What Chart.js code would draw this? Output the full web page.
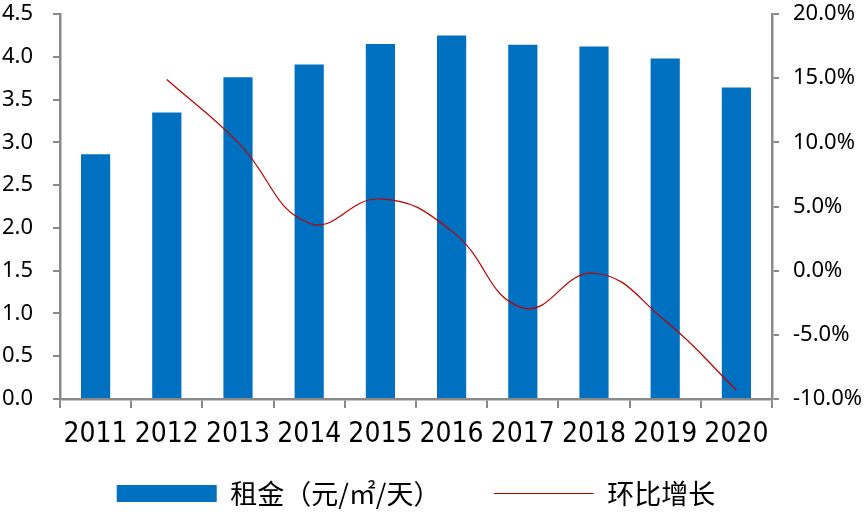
<!DOCTYPE html>
<html>
<head>
<meta charset="utf-8">
<script src="https://cdn.jsdelivr.net/npm/chart.js@4.4.1/dist/chart.umd.min.js"></script>
<style>
    body { margin: 0; background: #fff; }
    #wrap { width: 867px; height: 517px; }
</style>
</head>
<body>
<div id="wrap"><canvas id="myChart" width="867" height="517"></canvas></div>
<script>
    var years = ['2011', '2012', '2013', '2014', '2015', '2016', '2017', '2018', '2019', '2020'];
    var rent = [2.86, 3.35, 3.76, 3.91, 4.15, 4.25, 4.14, 4.12, 3.98, 3.64];
    var growth = [null, 14.9, 10.0, 3.7, 5.6, 3.1, -2.9, -0.2, -3.9, -9.3];

    var axisGray = '#898989';

    // tick padding would also pad the top of the plot, so cut it back here
    function fixSide(width) {
        return function (scale) {
            scale.width = width;
            scale.paddingTop = 14;
            scale.paddingBottom = 0;
        };
    }

    new Chart(document.getElementById('myChart').getContext('2d'), {
        type: 'bar',
        data: {
            labels: years,
            datasets: [{
                type: 'line',
                label: '环比增长',
                data: growth,
                yAxisID: 'y1',
                borderColor: '#C00000',
                backgroundColor: '#C00000',
                borderWidth: 1.2,
                pointRadius: 0,
                pointStyle: 'line',
                tension: 0.45
            }, {
                label: '租金（元/㎡/天）\u00a0\u00a0\u00a0\u00a0\u00a0\u00a0\u00a0\u00a0',
                data: rent,
                yAxisID: 'y',
                backgroundColor: '#0070C0',
                borderWidth: 0,
                pointStyle: 'rect',
                categoryPercentage: 1,
                barPercentage: 0.41
            }]
        },
        options: {
            responsive: false,
            animation: false,
            layout: {
                padding: { top: 0, bottom: 0 }
            },
            plugins: {
                tooltip: { enabled: false },
                legend: {
                    position: 'bottom',
                    fullSize: false,
                    labels: {
                        usePointStyle: true,
                        pointStyleWidth: 100,
                        boxHeight: 17,
                        padding: 5,
                        color: '#000',
                        font: { family: '"Noto Sans CJK SC", "Noto Sans"', size: 27 },
                        sort: (a, b) => b.datasetIndex - a.datasetIndex
                    }
                }
            },
            scales: {
                x: {
                    afterFit: (scale) => { scale.height = 76; },
                    border: { color: axisGray, width: 2.5 },
                    grid: {
                        drawOnChartArea: false,
                        tickLength: 9,
                        tickColor: axisGray,
                        lineWidth: 2
                    },
                    ticks: {
                        color: '#000',
                        padding: 10,
                        maxRotation: 0,
                        font: { family: '"DejaVu Sans Condensed"', size: 28 }
                    }
                },
                y: {
                    position: 'left',
                    min: 0,
                    max: 4.5,
                    afterFit: fixSide(60),
                    border: { color: axisGray, width: 2.5 },
                    grid: {
                        drawOnChartArea: false,
                        tickLength: 7,
                        tickColor: axisGray,
                        lineWidth: 2
                    },
                    ticks: {
                        stepSize: 0.5,
                        color: '#000',
                        padding: 20,
                        font: { family: '"Noto Sans"', size: 22 },
                        callback: (v) => v.toFixed(1)
                    }
                },
                y1: {
                    position: 'right',
                    min: -10,
                    max: 20,
                    afterFit: fixSide(95),
                    border: { color: axisGray, width: 2.5 },
                    grid: {
                        drawOnChartArea: false,
                        tickLength: 7,
                        tickColor: axisGray,
                        lineWidth: 2
                    },
                    ticks: {
                        stepSize: 5,
                        color: '#000',
                        padding: 14,
                        font: { family: '"Noto Sans"', size: 22 },
                        callback: (v) => v.toFixed(1) + '%'
                    }
                }
            }
        }
    });
</script>
</body>
</html>
